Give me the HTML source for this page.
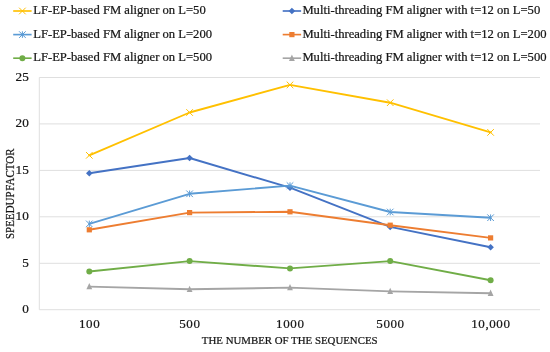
<!DOCTYPE html>
<html><head><meta charset="utf-8"><style>
html,body{margin:0;padding:0;background:#fff;}
body{width:550px;height:352px;overflow:hidden;}
svg{display:block;}
text{font-family:"Liberation Serif","Times New Roman",serif;fill:#161616;stroke:#161616;stroke-width:0.22px;}
.ax{font-size:13.2px;}
.xl{font-size:13px;letter-spacing:0.6px;}
.lg{font-size:12.63px;}
.tt{font-size:10.85px;}
</style></head><body>
<svg width="550" height="352" viewBox="0 0 550 352">
<rect width="550" height="352" fill="#fff"/>
<line x1="39.3" y1="77.5" x2="540" y2="77.5" stroke="#dfdfdf" stroke-width="1"/>
<line x1="39.3" y1="123.9" x2="540" y2="123.9" stroke="#dfdfdf" stroke-width="1"/>
<line x1="39.3" y1="170.4" x2="540" y2="170.4" stroke="#dfdfdf" stroke-width="1"/>
<line x1="39.3" y1="216.8" x2="540" y2="216.8" stroke="#dfdfdf" stroke-width="1"/>
<line x1="39.3" y1="263.3" x2="540" y2="263.3" stroke="#dfdfdf" stroke-width="1"/>
<line x1="39.3" y1="77.5" x2="39.3" y2="309.7" stroke="#dfdfdf" stroke-width="1"/>
<line x1="39.3" y1="309.7" x2="540" y2="309.7" stroke="#dfdfdf" stroke-width="1"/>
<text x="28.8" y="80.80" text-anchor="end" class="ax">25</text>
<text x="28.8" y="127.24" text-anchor="end" class="ax">20</text>
<text x="28.8" y="173.68" text-anchor="end" class="ax">15</text>
<text x="28.8" y="220.12" text-anchor="end" class="ax">10</text>
<text x="28.8" y="266.56" text-anchor="end" class="ax">5</text>
<text x="28.8" y="313.00" text-anchor="end" class="ax">0</text>
<text x="89.6" y="328.4" text-anchor="middle" class="xl">100</text>
<text x="189.9" y="328.4" text-anchor="middle" class="xl">500</text>
<text x="290.3" y="328.4" text-anchor="middle" class="xl">1000</text>
<text x="390.5" y="328.4" text-anchor="middle" class="xl">5000</text>
<text x="490.9" y="328.4" text-anchor="middle" class="xl">10,000</text>
<text transform="translate(289.7 343.7)" x="0" y="0" text-anchor="middle" class="tt">THE NUMBER OF THE SEQUENCES</text>
<text transform="translate(13.5 193.75) rotate(-90) scale(1 1.1)" x="0" y="0" text-anchor="middle" class="tt" style="word-spacing:-2px;letter-spacing:0.12px">SPEEDUP FACTOR</text>
<polyline points="89.30,155.30 189.60,112.50 290.00,84.90 390.20,102.70 490.60,132.40" fill="none" stroke="#FFC000" stroke-width="1.9" stroke-linejoin="round" stroke-linecap="round"/>
<path d="M86.00 152.00L92.60 158.60M92.60 152.00L86.00 158.60" stroke="#FFC000" stroke-width="1" fill="none"/>
<path d="M186.30 109.20L192.90 115.80M192.90 109.20L186.30 115.80" stroke="#FFC000" stroke-width="1" fill="none"/>
<path d="M286.70 81.60L293.30 88.20M293.30 81.60L286.70 88.20" stroke="#FFC000" stroke-width="1" fill="none"/>
<path d="M386.90 99.40L393.50 106.00M393.50 99.40L386.90 106.00" stroke="#FFC000" stroke-width="1" fill="none"/>
<path d="M487.30 129.10L493.90 135.70M493.90 129.10L487.30 135.70" stroke="#FFC000" stroke-width="1" fill="none"/>
<polyline points="89.30,173.20 189.60,158.00 290.00,187.70 390.20,226.90 490.60,247.30" fill="none" stroke="#4472C4" stroke-width="1.9" stroke-linejoin="round" stroke-linecap="round"/>
<path d="M89.30 169.90L92.60 173.20L89.30 176.50L86.00 173.20Z" fill="#4472C4"/>
<path d="M189.60 154.70L192.90 158.00L189.60 161.30L186.30 158.00Z" fill="#4472C4"/>
<path d="M290.00 184.40L293.30 187.70L290.00 191.00L286.70 187.70Z" fill="#4472C4"/>
<path d="M390.20 223.60L393.50 226.90L390.20 230.20L386.90 226.90Z" fill="#4472C4"/>
<path d="M490.60 244.00L493.90 247.30L490.60 250.60L487.30 247.30Z" fill="#4472C4"/>
<polyline points="89.30,223.90 189.60,193.80 290.00,185.60 390.20,212.00 490.60,217.70" fill="none" stroke="#5B9BD5" stroke-width="1.9" stroke-linejoin="round" stroke-linecap="round"/>
<path d="M86.00 220.60L92.60 227.20M92.60 220.60L86.00 227.20M89.30 220.60L89.30 227.20" stroke="#5B9BD5" stroke-width="1" fill="none"/>
<path d="M186.30 190.50L192.90 197.10M192.90 190.50L186.30 197.10M189.60 190.50L189.60 197.10" stroke="#5B9BD5" stroke-width="1" fill="none"/>
<path d="M286.70 182.30L293.30 188.90M293.30 182.30L286.70 188.90M290.00 182.30L290.00 188.90" stroke="#5B9BD5" stroke-width="1" fill="none"/>
<path d="M386.90 208.70L393.50 215.30M393.50 208.70L386.90 215.30M390.20 208.70L390.20 215.30" stroke="#5B9BD5" stroke-width="1" fill="none"/>
<path d="M487.30 214.40L493.90 221.00M493.90 214.40L487.30 221.00M490.60 214.40L490.60 221.00" stroke="#5B9BD5" stroke-width="1" fill="none"/>
<polyline points="89.30,229.80 189.60,212.60 290.00,211.80 390.20,225.20 490.60,237.90" fill="none" stroke="#ED7D31" stroke-width="1.9" stroke-linejoin="round" stroke-linecap="round"/>
<rect x="86.70" y="227.20" width="5.20" height="5.20" fill="#ED7D31"/>
<rect x="187.00" y="210.00" width="5.20" height="5.20" fill="#ED7D31"/>
<rect x="287.40" y="209.20" width="5.20" height="5.20" fill="#ED7D31"/>
<rect x="387.60" y="222.60" width="5.20" height="5.20" fill="#ED7D31"/>
<rect x="488.00" y="235.30" width="5.20" height="5.20" fill="#ED7D31"/>
<polyline points="89.30,271.50 189.60,261.10 290.00,268.40 390.20,261.10 490.60,280.20" fill="none" stroke="#70AD47" stroke-width="1.9" stroke-linejoin="round" stroke-linecap="round"/>
<circle cx="89.30" cy="271.50" r="3" fill="#70AD47"/>
<circle cx="189.60" cy="261.10" r="3" fill="#70AD47"/>
<circle cx="290.00" cy="268.40" r="3" fill="#70AD47"/>
<circle cx="390.20" cy="261.10" r="3" fill="#70AD47"/>
<circle cx="490.60" cy="280.20" r="3" fill="#70AD47"/>
<polyline points="89.30,286.60 189.60,289.30 290.00,287.60 390.20,291.40 490.60,293.20" fill="none" stroke="#A5A5A5" stroke-width="1.9" stroke-linejoin="round" stroke-linecap="round"/>
<path d="M89.30 283.00L92.20 289.30L86.40 289.30Z" fill="#A5A5A5"/>
<path d="M189.60 285.70L192.50 292.00L186.70 292.00Z" fill="#A5A5A5"/>
<path d="M290.00 284.00L292.90 290.30L287.10 290.30Z" fill="#A5A5A5"/>
<path d="M390.20 287.80L393.10 294.10L387.30 294.10Z" fill="#A5A5A5"/>
<path d="M490.60 289.60L493.50 295.90L487.70 295.90Z" fill="#A5A5A5"/>
<line x1="13.20" y1="11.00" x2="31.60" y2="11.00" stroke="#FFC000" stroke-width="1.65"/>
<path d="M19.10 7.70L25.70 14.30M25.70 7.70L19.10 14.30" stroke="#FFC000" stroke-width="1" fill="none"/>
<text transform="translate(33.20 14.05) scale(1 1.05)" class="lg">LF-EP-based FM aligner on L=50</text>
<line x1="282.70" y1="11.00" x2="301.10" y2="11.00" stroke="#4472C4" stroke-width="1.65"/>
<path d="M291.90 7.70L295.20 11.00L291.90 14.30L288.60 11.00Z" fill="#4472C4"/>
<text transform="translate(302.40 14.05) scale(1 1.05)" class="lg">Multi-threading FM aligner with t=12 on L=50</text>
<line x1="13.20" y1="34.60" x2="31.60" y2="34.60" stroke="#5B9BD5" stroke-width="1.65"/>
<path d="M19.10 31.30L25.70 37.90M25.70 31.30L19.10 37.90M22.40 31.30L22.40 37.90" stroke="#5B9BD5" stroke-width="1" fill="none"/>
<text transform="translate(33.20 37.55) scale(1 1.05)" class="lg">LF-EP-based FM aligner on L=200</text>
<line x1="282.70" y1="34.60" x2="301.10" y2="34.60" stroke="#ED7D31" stroke-width="1.65"/>
<rect x="289.30" y="32.00" width="5.20" height="5.20" fill="#ED7D31"/>
<text transform="translate(302.40 37.55) scale(1 1.05)" class="lg">Multi-threading FM aligner with t=12 on L=200</text>
<line x1="13.20" y1="58.20" x2="31.60" y2="58.20" stroke="#70AD47" stroke-width="1.65"/>
<circle cx="22.40" cy="58.20" r="3" fill="#70AD47"/>
<text transform="translate(33.20 61.05) scale(1 1.05)" class="lg">LF-EP-based FM aligner on L=500</text>
<line x1="282.70" y1="58.20" x2="301.10" y2="58.20" stroke="#A5A5A5" stroke-width="1.65"/>
<path d="M291.90 54.60L294.80 60.90L289.00 60.90Z" fill="#A5A5A5"/>
<text transform="translate(302.40 61.05) scale(1 1.05)" class="lg">Multi-threading FM aligner with t=12 on L=500</text>
</svg>
</body></html>
